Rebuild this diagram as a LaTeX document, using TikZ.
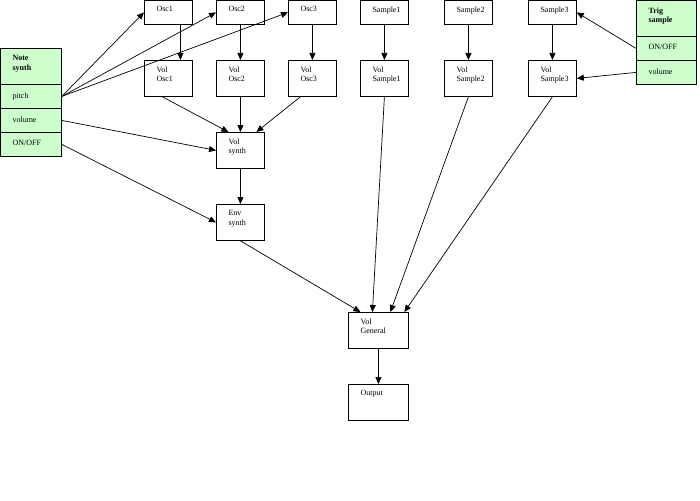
\documentclass[tikz,border=0pt]{standalone}
\usepackage{fontspec}
\setmainfont{Liberation Serif}
\usetikzlibrary{arrows.meta}
\definecolor{pg}{HTML}{CCFFCC}
\begin{document}
\begin{tikzpicture}[x=1pt,y=-1pt,
  box/.style={draw,line width=0.8pt,rectangle,anchor=north west,inner sep=0pt,font=\fontsize{8}{9.5}\selectfont},
  lbl/.style={anchor=north west,font=\fontsize{8}{9.5}\selectfont,align=left},
  cell/.style={draw,line width=0.8pt,fill=pg,anchor=north west,inner sep=0pt,minimum width=61pt,font=\fontsize{8}{9.5}\selectfont},
  arr/.style={-{Triangle[length=7pt,width=6pt]},line width=0.7pt}]
\useasboundingbox (0,0) rectangle (700,500);
\newcommand\mybox[6]{\node[box,minimum width=#4pt,minimum height=#5pt] (#1) at (#2,#3) {};
  \node[lbl] at (#2+9,#3+3) {#6};}
\mybox{o1}{144}{0}{48}{24}{Osc1}
\mybox{o2}{216}{0}{48}{24}{Osc2}
\mybox{o3}{288}{0}{48}{24}{Osc3}
\mybox{vo1}{144}{60}{48}{36}{Vol\\Osc1}
\mybox{vo2}{216}{60}{48}{36}{Vol\\Osc2}
\mybox{vo3}{288}{60}{48}{36}{Vol\\Osc3}
\mybox{vs}{216}{132}{48}{36}{Vol\\synth}
\mybox{es}{216}{204}{48}{36}{Env\\synth}
\mybox{s1}{360}{0}{48}{24}{Sample1}
\mybox{s2}{444}{0}{48}{24}{Sample2}
\mybox{s3}{528}{0}{48}{24}{Sample3}
\mybox{vs1}{360}{60}{48}{36}{Vol\\Sample1}
\mybox{vs2}{444}{60}{48}{36}{Vol\\Sample2}
\mybox{vs3}{528}{60}{48}{36}{Vol\\Sample3}
\mybox{vg}{348}{312}{60}{36}{Vol\\General}
\mybox{out}{348}{384}{60}{36}{Output}
% Note synth panel
\node[cell,minimum height=36pt] (nh) at (0,48) {};
\node[lbl,font=\fontsize{8}{9.5}\selectfont\bfseries] at (9,52) {Note\\synth};
\node[cell,minimum height=24pt] (np) at (0,84) {};
\node[lbl] at (9,89) {pitch};
\node[cell,minimum height=24pt] (nv) at (0,108) {};
\node[lbl] at (9,113) {volume};
\node[cell,minimum height=24pt] (no) at (0,132) {};
\node[lbl] at (9,137) {ON/OFF};
% Trig sample panel
\node[cell,minimum width=60pt,minimum height=36pt] (th) at (636,0) {};
\node[lbl,font=\fontsize{8}{9.5}\selectfont\bfseries] at (645,4) {Trig\\sample};
\node[cell,minimum width=60pt,minimum height=24pt] (to) at (636,36) {};
\node[lbl] at (645,41) {ON/OFF};
\node[cell,minimum width=60pt,minimum height=24pt] (tv) at (636,60) {};
\node[lbl] at (645,65) {volume};
% connectors
\draw[arr] (np.east) -- (o1.west);
\draw[arr] (np.east) -- (o2.west);
\draw[arr] (np.east) -- (o3.west);
\draw[arr] ([xshift=12pt]o1.south) -- ([xshift=12pt]vo1.north);
\draw[arr] (o2.south) -- (vo2.north);
\draw[arr] (o3.south) -- (vo3.north);
\draw[arr] (s1.south) -- (vs1.north);
\draw[arr] (s2.south) -- (vs2.north);
\draw[arr] (s3.south) -- (vs3.north);
\draw[arr] ([xshift=-6pt]vo1.south) -- ([xshift=-12pt]vs.north);
\draw[arr] (vo2.south) -- (vs.north);
\draw[arr] ([xshift=-12pt]vo3.south) -- ([xshift=16pt]vs.north);
\draw[arr] (nv.east) -- (vs.west);
\draw[arr] (no.east) -- (es.west);
\draw[arr] (vs.south) -- (es.north);
\draw[arr] (es.south) -- ([xshift=-18pt]vg.north);
\draw[arr] (vs1.south) -- ([xshift=-6pt]vg.north);
\draw[arr] (vs2.south) -- ([xshift=12pt]vg.north);
\draw[arr] (vs3.south) -- ([xshift=26pt]vg.north);
\draw[arr] (vg.south) -- (out.north);
\draw[arr] (to.west) -- (s3.east);
\draw[arr] (tv.west) -- (vs3.east);
\end{tikzpicture}
\end{document}
